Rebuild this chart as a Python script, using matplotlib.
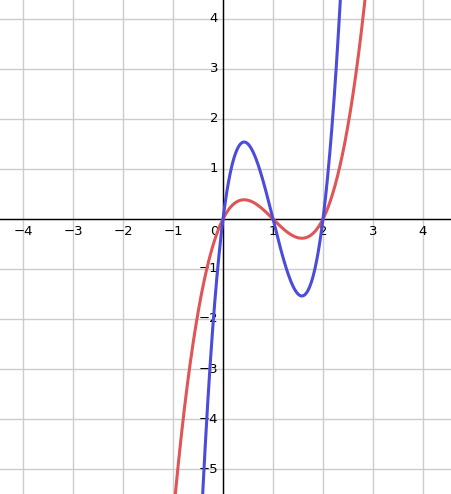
import numpy as np
import matplotlib
matplotlib.use("Agg")
import matplotlib.pyplot as plt

# cubic coefficients (highest power first) of the two curves
red_coeffs = [1, -3, 2, 0]
blue_coeffs = [4, -12, 8, 0]
xticks = [-4, -3, -2, -1, 1, 2, 3, 4]
yticks = [-5, -4, -3, -2, -1, 1, 2, 3, 4]

fig = plt.figure(figsize=(4.51, 4.94), dpi=100)
ax = fig.add_axes([0, 0, 1, 1])
xmin, xmax = -4.46, 4.56
ymin, ymax = -5.5, 4.38
ax.set_xlim(xmin, xmax)
ax.set_ylim(ymin, ymax)
for s in ax.spines.values():
    s.set_visible(False)
ax.set_xticks([]); ax.set_yticks([])
for v in range(-5, 6):
    ax.axvline(v, color='#cccccc', lw=1, zorder=0)
    ax.axhline(v, color='#cccccc', lw=1, zorder=0)
ax.axhline(0, color='black', lw=1, zorder=1)
ax.axvline(0, color='black', lw=1, zorder=1)
for t in xticks:
    ax.text(t, -0.12, f"{t}" if t > 0 else f"\u2212{-t}", ha='center', va='top', fontsize=9.5)
for t in yticks:
    ax.text(-0.1, t, f"{t}" if t > 0 else f"\u2212{-t}", ha='right', va='center', fontsize=9.5)
ax.text(-0.1, -0.12, "0", ha='right', va='top', fontsize=9.5)

xs = np.linspace(-1.5, 3.5, 2000)
ax.plot(xs, np.polyval(red_coeffs, xs), color='#e05555', lw=2.2, zorder=3)
ax.plot(xs, np.polyval(blue_coeffs, xs), color='#4b4bdc', lw=2.2, zorder=3)
fig.savefig("out.png", dpi=100)
